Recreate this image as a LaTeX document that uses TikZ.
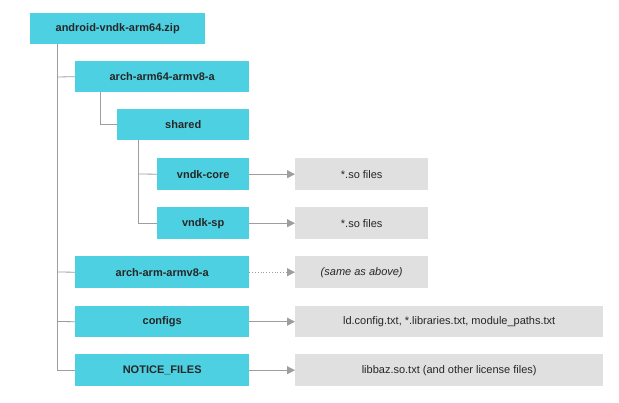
\documentclass[tikz,border=0pt]{standalone}
\usepackage{fontspec}
\setmainfont{Liberation Sans}
\usetikzlibrary{arrows.meta}
\definecolor{cy}{HTML}{4DD0E1}
\definecolor{gb}{HTML}{E0E0E0}
\definecolor{ln}{HTML}{9E9E9E}
\begin{document}
\begin{tikzpicture}[x=1pt,y=-1pt,
  c/.style={fill=cy,draw=none,anchor=north west,inner sep=0,font=\fontsize{11}{13}\selectfont\bfseries,text=black!85},
  g/.style={fill=gb,draw=none,anchor=north west,inner sep=0,font=\fontsize{11}{13}\selectfont,text=black!85},
  t/.style={draw=ln,line width=0.8pt},
  a/.style={t,-{Triangle[length=8pt,width=8pt]}}]
\useasboundingbox (0,0) rectangle (619,403);
\node[c,minimum width=175,minimum height=31] (root) at (30,13) {android-vndk-arm64.zip};
\node[c,minimum width=174,minimum height=31] (a64) at (75,61) {arch-arm64-armv8-a};
\node[c,minimum width=132,minimum height=31] (sh) at (117,109) {shared};
\node[c,minimum width=92,minimum height=32] (vc) at (157,158) {vndk-core};
\node[c,minimum width=92,minimum height=32] (vs) at (157,207) {vndk-sp};
\node[c,minimum width=174,minimum height=32] (a32) at (75,256) {arch-arm-armv8-a};
\node[c,minimum width=174,minimum height=31] (cf) at (75,306) {configs};
\node[c,minimum width=174,minimum height=32] (nf) at (75,354) {NOTICE\_FILES};
\node[g,minimum width=133,minimum height=32] (g1) at (295,158) {*.so files};
\node[g,minimum width=133,minimum height=32] (g2) at (295,207) {*.so files};
\node[g,minimum width=133,minimum height=32] (g3) at (295,256) {\itshape (same as above)};
\node[g,minimum width=308,minimum height=31] (g4) at (295,306) {ld.config.txt, *.libraries.txt, module\_paths.txt};
\node[g,minimum width=308,minimum height=32] (g5) at (295,354) {libbaz.so.txt (and other license files)};
\coordinate (r1) at (57,44);
\draw[t] (r1) |- (nf.west);
\draw[t] (57,77) -- (a64.west);
\draw[t] (57,272) -- (a32.west);
\draw[t] (57,321.5) -- (cf.west);
\draw[t] (100,92) |- (sh.west);
\draw[t] (138,140) |- (vs.west);
\draw[t] (138,174) -- (vc.west);
\draw[a] (vc.east) -- (g1.west);
\draw[a] (vs.east) -- (g2.west);
\draw[a,dotted] (a32.east) -- (g3.west);
\draw[a] (cf.east) -- (g4.west);
\draw[a] (nf.east) -- (g5.west);
\end{tikzpicture}
\end{document}
